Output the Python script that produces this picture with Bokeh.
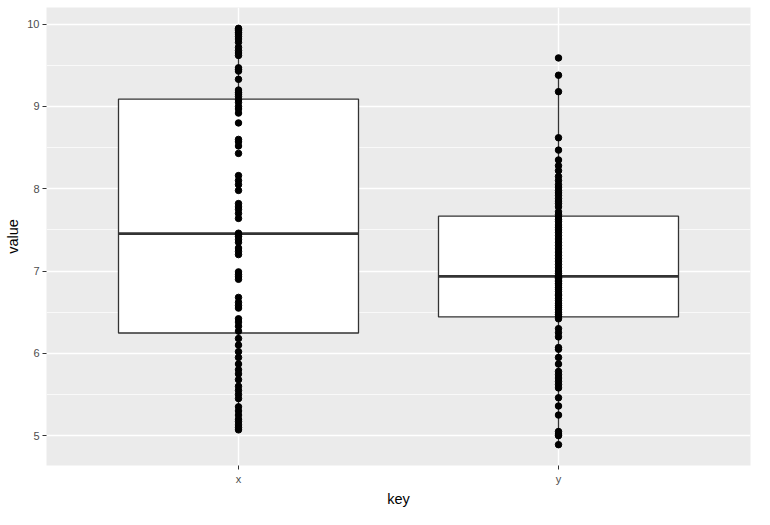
import numpy as np
from bokeh.plotting import figure
from bokeh.models import FixedTicker
from bokeh.embed import file_html
from bokeh.resources import INLINE

# ---- data ----
keys = ["x", "y"]
x_values = [5.07, 5.10, 5.13, 5.17, 5.20, 5.25, 5.30, 5.35, 5.45, 5.50, 5.55, 5.60, 5.68, 5.75,
            5.80, 5.87, 5.95, 6.02, 6.10, 6.18, 6.27, 6.33, 6.38, 6.42, 6.55, 6.58, 6.62, 6.68,
            6.90, 6.93, 6.96, 6.99, 7.20, 7.24, 7.28, 7.35, 7.38, 7.42, 7.44, 7.45, 7.46, 7.64,
            7.70, 7.75, 7.78, 7.82, 7.98, 8.05, 8.10, 8.16, 8.43, 8.52, 8.57, 8.60, 8.80, 8.92,
            8.97, 9.00, 9.05, 9.08, 9.12, 9.15, 9.17, 9.20, 9.33, 9.43, 9.45, 9.47, 9.62, 9.65,
            9.68, 9.72, 9.78, 9.82, 9.85, 9.88, 9.90, 9.92, 9.94, 9.95]
y_values = [4.89, 5.00, 5.02, 5.05, 5.25, 5.36, 5.46, 5.58, 5.62, 5.66, 5.70, 5.74, 5.78, 5.87,
            5.95, 6.05, 6.07, 6.20, 6.25, 6.30, 6.42, 6.45, 6.47, 6.50, 6.53, 6.56, 6.58, 6.61,
            6.64, 6.67, 6.70, 6.72, 6.75, 6.78, 6.80, 6.83, 6.85, 6.87, 6.89, 6.91, 6.92, 6.93,
            6.94, 6.97, 7.00, 7.04, 7.08, 7.12, 7.15, 7.19, 7.23, 7.27, 7.31, 7.35, 7.39, 7.43,
            7.47, 7.50, 7.53, 7.56, 7.60, 7.63, 7.66, 7.69, 7.72, 7.78, 7.82, 7.85, 7.88, 7.92,
            7.95, 7.98, 8.02, 8.05, 8.10, 8.15, 8.22, 8.28, 8.35, 8.47, 8.62, 9.18, 9.38, 9.59]
y_ticks = [5, 6, 7, 8, 9, 10]

groups = [x_values, y_values]
positions = list(range(1, len(keys) + 1))

FONT = "Liberation Sans"

p = figure(width=754, height=509, output_backend="svg", toolbar_location=None,
           x_range=(0.4, 2.6), y_range=(4.637, 10.203),
           min_border_left=46, min_border_right=4, min_border_top=7, min_border_bottom=40)
p.background_fill_color = "#EBEBEB"
p.border_fill_color = "white"
p.outline_line_color = None

# grids
p.xaxis.ticker = FixedTicker(ticks=positions)
p.xaxis.major_label_overrides = {pos: k for pos, k in zip(positions, keys)}
p.yaxis.ticker = FixedTicker(ticks=y_ticks, minor_ticks=[t + 0.5 for t in y_ticks[:-1]])
for g in (p.xgrid, p.ygrid):
    g.grid_line_color = "white"
    g.grid_line_width = 1.4
p.ygrid.minor_grid_line_color = "white"
p.ygrid.minor_grid_line_width = 0.7

for ax in (p.xaxis, p.yaxis):
    ax.axis_line_color = None
    ax.major_tick_line_color = "#333333"
    ax.major_tick_out = 4
    ax.major_tick_in = 0
    ax.minor_tick_line_color = None
    ax.major_label_text_color = "#4D4D4D"
    ax.major_label_text_font = FONT
    ax.major_label_text_font_size = "11px"
    ax.major_label_standoff = 3
    ax.axis_label_text_font = FONT
    ax.axis_label_text_font_size = "14.5px"
    ax.axis_label_text_font_style = "normal"
    ax.axis_label_text_color = "black"
    ax.axis_label_standoff = 3
p.xaxis.axis_label = "key"
p.yaxis.axis_label = "value"

# boxplots
bw = 0.75
for pos, vals in zip(positions, groups):
    v = np.array(vals)
    q1, q2, q3 = np.percentile(v, [25, 50, 75])
    iqr = q3 - q1
    upper = v[v <= q3 + 1.5 * iqr].max()
    lower = v[v >= q1 - 1.5 * iqr].min()
    p.segment(x0=[pos, pos], y0=[q3, q1], x1=[pos, pos], y1=[upper, lower],
              line_color="#333333", line_width=1.3)
    p.quad(left=[pos - bw / 2], right=[pos + bw / 2], bottom=[q1], top=[q3],
           fill_color="white", line_color="#333333", line_width=1.3)
    p.segment(x0=[pos - bw / 2], y0=[q2], x1=[pos + bw / 2], y1=[q2],
              line_color="#333333", line_width=2.8)

# points
for pos, vals in zip(positions, groups):
    p.scatter(x=[pos] * len(vals), y=vals, size=6.5, fill_color="black", line_color="black")

open("out.html", "w").write(file_html(p, INLINE))
